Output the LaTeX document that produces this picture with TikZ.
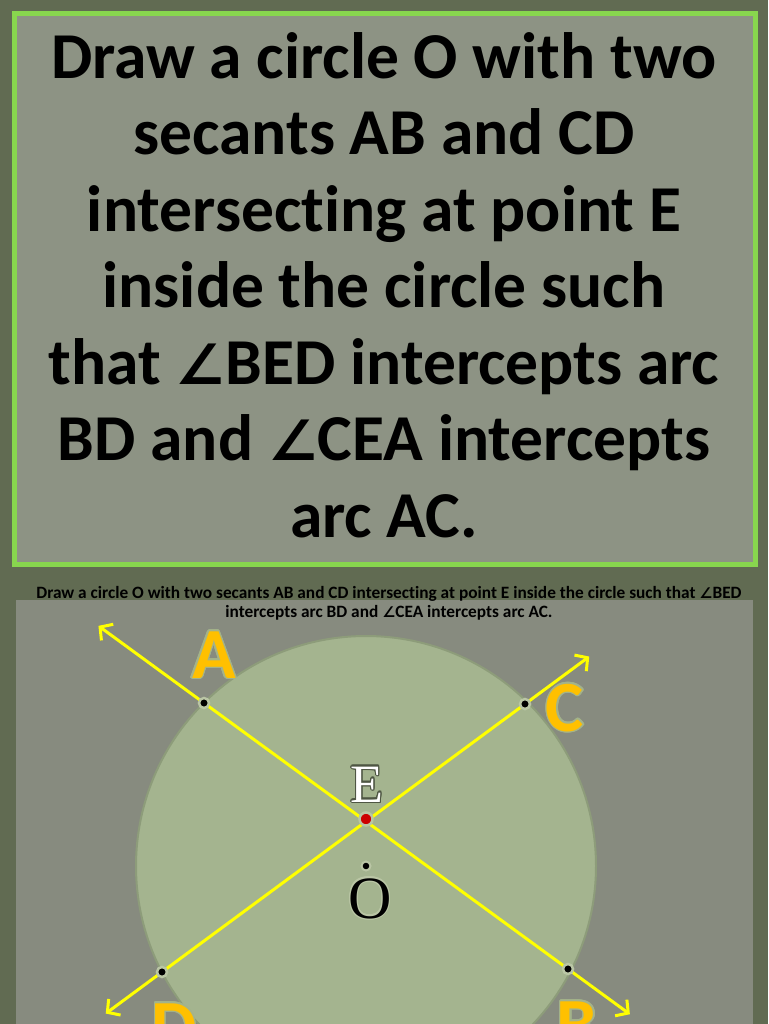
\documentclass[tikz,border=0pt]{standalone}
\usepackage{fontspec}
\setmainfont{Carlito}[Ligatures=NoCommon]
\newfontfamily\symfont{DejaVu Sans}
\newfontfamily\serfont{Liberation Serif}
\usepackage{contour}
\contourlength{1.3pt}
\usetikzlibrary{arrows.meta,calc}
\definecolor{bgdark}{HTML}{616B52}
\definecolor{toppaper}{HTML}{8D9384}
\definecolor{frameg}{HTML}{88D64E}
\definecolor{botpaper}{HTML}{878B7F}
\definecolor{circfill}{HTML}{A4B48F}
\definecolor{circedge}{HTML}{8D9C7A}
\definecolor{ringc}{HTML}{BAC6A5}
\definecolor{rayc}{HTML}{FFFF00}
\definecolor{goldc}{HTML}{FFC000}
\definecolor{haloc}{HTML}{A3B38A}
\newcommand{\ang}{{\symfont\scalebox{0.85}{∠}}}
\tikzset{
  ray/.style={draw=rayc, line width=3pt, {Straight Barb[length=9pt,width=20pt]}-{Straight Barb[length=9pt,width=20pt]}},
  pt/.style={circle, fill=black, draw=ringc, line width=2.5pt, inner sep=0pt, minimum size=10pt},
  ept/.style={circle, fill=red!80!black, draw=ringc, line width=2.5pt, inner sep=0pt, minimum size=13pt},
  ptlabel/.style={font=\fontsize{72}{72}\selectfont\bfseries, inner sep=0pt},
  bigtext/.style={font=\fontsize{65.5}{76.5}\selectfont\bfseries, align=center, text=black, inner sep=0pt},
  captext/.style={font=\fontsize{17.3}{19}\selectfont\bfseries, align=center, text=black, inner sep=0pt}
}
\begin{document}
\begin{tikzpicture}[x=1pt,y=-1pt]
\useasboundingbox (0,0) rectangle (768,1024);
\fill[bgdark] (0,0) rectangle (768,1024);
% top panel
\fill[toppaper] (14,14) rectangle (755,564);
\draw[frameg, line width=5pt] (14,14) rectangle (755,564);
\node[bigtext, anchor=base] (title) at (384,537) {Draw a circle O with two\\secants AB and CD\\intersecting at point E\\inside the circle such\\that \ang BED intercepts arc\\BD and \ang CEA intercepts\\arc AC.};
% bottom panel
\fill[botpaper] (16,600) rectangle (753,1024);
\node[captext, anchor=base] (cap) at (389,617) {Draw a circle O with two secants AB and CD intersecting at point E inside the circle such that \ang BED\\intercepts arc BD and \ang CEA intercepts arc AC.};
% circle
\coordinate (O) at (366,866);
\fill[circfill] (O) circle (230);
\draw[circedge, line width=2pt] (O) circle (230);
% points
\coordinate (A) at (204,703);
\coordinate (B) at (568,969);
\coordinate (C) at (525,704);
\coordinate (D) at (162,972);
\coordinate (E) at (366,819);
\coordinate (Atip) at ($(A)!-0.29!(B)$);
\coordinate (Btip) at ($(A)!1.17!(B)$);
\coordinate (Ctip) at ($(C)!-0.177!(D)$);
\coordinate (Dtip) at ($(C)!1.155!(D)$);
\draw[ray] (Atip) -- (Btip);
\draw[ray] (Ctip) -- (Dtip);
\node[pt] (pA) at (A) {};
\node[pt] (pB) at (B) {};
\node[pt] (pC) at (C) {};
\node[pt] (pD) at (D) {};
\node[ept] (pE) at (E) {};
\node[pt, minimum size=9pt, line width=2pt] (pO) at (O) {};
% labels
\node[ptlabel, anchor=base] (lA) at (214,678) {\contour{haloc}{\textcolor{goldc}{A}}};
\node[ptlabel, anchor=base] (lC) at (565,731) {\contour{haloc}{\textcolor{goldc}{C}}};
\node[ptlabel, anchor=base] (lD) at (174,1050) {\contour{haloc}{\textcolor{goldc}{D}}};
\node[ptlabel, anchor=base] (lB) at (577,1048) {\contour{haloc}{\textcolor{goldc}{B}}};
\node[font=\fontsize{54}{54}\selectfont\serfont, anchor=base, inner sep=0pt] (lE) at (367,802) {\contour{black!45!circedge}{\textcolor{white}{E}}};
\node[font=\fontsize{60}{60}\selectfont\serfont, anchor=base, inner sep=0pt] (lO) at (370,918) {\contour{ringc}{\textcolor{black}{O}}};
\end{tikzpicture}
\end{document}
